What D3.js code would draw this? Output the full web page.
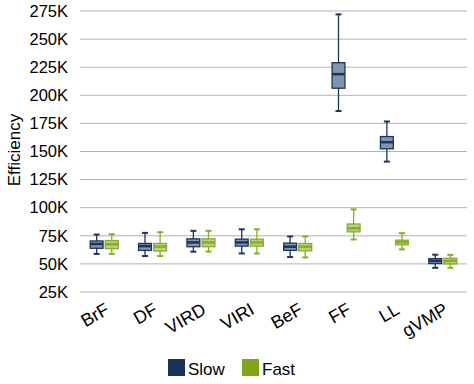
<!DOCTYPE html>
<html>
<head>
<meta charset="utf-8">
<script src="https://cdn.jsdelivr.net/npm/d3@7"></script>
<style>
  body { margin: 0; background: #fff; }
  text { font-family: "Liberation Sans", Arial, sans-serif; fill: #000; }
</style>
</head>
<body>
<div id="chart"></div>
<script>
// categories and series
var categories = ["BrF", "DF", "VIRD", "VIRI", "BeF", "FF", "LL", "gVMP"];
var series = ["Slow", "Fast"];

// [min, q1, median, q3, max] per category (in K)
var slowStats = [
  [58.9, 63.9, 67.7, 70.4, 76.1],
  [57.0, 62.0, 65.8, 68.2, 77.6],
  [60.9, 65.3, 69.1, 72.3, 79.4],
  [59.3, 65.8, 69.1, 72.0, 80.8],
  [56.1, 62.0, 65.3, 68.5, 74.4],
  [186.0, 206.3, 218.8, 229.0, 272.0],
  [141.0, 152.4, 158.3, 163.3, 176.7],
  [46.5, 50.3, 52.7, 54.7, 58.2]
];
var fastStats = [
  [58.9, 63.6, 67.5, 70.8, 76.4],
  [57.0, 61.4, 65.3, 68.2, 78.2],
  [60.9, 65.3, 69.1, 72.3, 79.4],
  [59.3, 65.8, 69.1, 72.0, 80.8],
  [55.8, 61.7, 65.3, 68.2, 74.4],
  [71.7, 78.5, 81.7, 85.5, 98.5],
  [62.9, 67.0, 69.3, 71.1, 77.3],
  [46.5, 50.0, 52.7, 55.0, 58.0]
];
var yTicks = [25, 50, 75, 100, 125, 150, 175, 200, 225, 250, 275];

var W = 474, H = 384;
var svg = d3.select("#chart").append("svg").attr("width", W).attr("height", H);

var x0 = d3.scaleBand().domain(categories).range([80, 467]).padding(0);
var y = d3.scaleLinear().domain([25, 275]).range([292, 11]);
var x1 = d3.scaleBand().domain(series).range([0, 28]).paddingInner(0.15);

var styles = {
  Slow: {fill: "#8194b0", stroke: "#1d3557", legend: "#18325a"},
  Fast: {fill: "#b9d17c", stroke: "#86ad2c", legend: "#7fa51b"}
};

// gridlines
svg.append("g")
  .selectAll("line")
  .data(yTicks)
  .enter().append("line")
  .attr("x1", 80).attr("x2", 467)
  .attr("y1", function(d){ return y(d); })
  .attr("y2", function(d){ return y(d); })
  .attr("stroke", "#b3b3b3")
  .attr("stroke-width", 1);

// y axis labels
var yAxis = d3.axisLeft(y).tickValues(yTicks).tickSize(0).tickPadding(12)
  .tickFormat(function(d){ return d + "K"; });
var gy = svg.append("g").attr("transform", "translate(80,0)").call(yAxis);
gy.select(".domain").remove();
gy.selectAll("text").style("font-size", "16.5px").style("font-family", "Liberation Sans, Arial, sans-serif").attr("fill", "#000");

// y title
svg.append("text")
  .attr("transform", "translate(20,150) rotate(-90)")
  .attr("text-anchor", "middle")
  .style("font-size", "17px")
  .text("Efficiency");

// x labels
svg.append("g")
  .selectAll("text")
  .data(categories)
  .enter().append("text")
  .attr("transform", function(d){
    return "translate(" + (x0(d) + x0.bandwidth()/2) + ",302) rotate(-30)";
  })
  .attr("text-anchor", "end")
  .attr("dy", "0.7em")
  .style("font-size", "18px")
  .text(function(d){ return d; });

// boxes
function drawBoxes(name, stats) {
  var st = styles[name];
  var g = svg.append("g");
  var items = stats.map(function(s, i){ return {cat: categories[i], s: s}; });
  var grp = g.selectAll("g").data(items).enter().append("g")
    .attr("transform", function(d){
      return "translate(" + (x0(d.cat) + x0.bandwidth()/2 - 14 + x1(name)) + ",0)";
    });
  var bw = x1.bandwidth();
  // whisker
  grp.append("line")
    .attr("x1", bw/2).attr("x2", bw/2)
    .attr("y1", function(d){ return y(d.s[4]); })
    .attr("y2", function(d){ return y(d.s[0]); })
    .attr("stroke", st.stroke).attr("stroke-width", 1.3);
  // caps
  [0, 4].forEach(function(k){
    grp.append("line")
      .attr("x1", bw/2 - 3).attr("x2", bw/2 + 3)
      .attr("y1", function(d){ return y(d.s[k]); })
      .attr("y2", function(d){ return y(d.s[k]); })
      .attr("stroke", st.stroke).attr("stroke-width", 2);
  });
  // box
  grp.append("rect")
    .attr("x", 0).attr("width", bw)
    .attr("y", function(d){ return y(d.s[3]); })
    .attr("height", function(d){ return y(d.s[1]) - y(d.s[3]); })
    .attr("fill", st.fill).attr("stroke", st.stroke).attr("stroke-width", 1.3);
  // median
  grp.append("line")
    .attr("x1", 0).attr("x2", bw)
    .attr("y1", function(d){ return y(d.s[2]); })
    .attr("y2", function(d){ return y(d.s[2]); })
    .attr("stroke", st.stroke).attr("stroke-width", 2.5);
}
drawBoxes("Slow", slowStats);
drawBoxes("Fast", fastStats);

// legend
var legX = [168, 242];
var leg = svg.append("g").selectAll("g").data(series).enter().append("g")
  .attr("transform", function(d, i){ return "translate(" + legX[i] + ",359)"; });
leg.append("rect").attr("width", 17).attr("height", 17)
  .attr("fill", function(d){ return styles[d].legend; });
leg.append("text").attr("x", 20).attr("y", 16)
  .style("font-size", "17px")
  .text(function(d){ return d; });
</script>
</body>
</html>
